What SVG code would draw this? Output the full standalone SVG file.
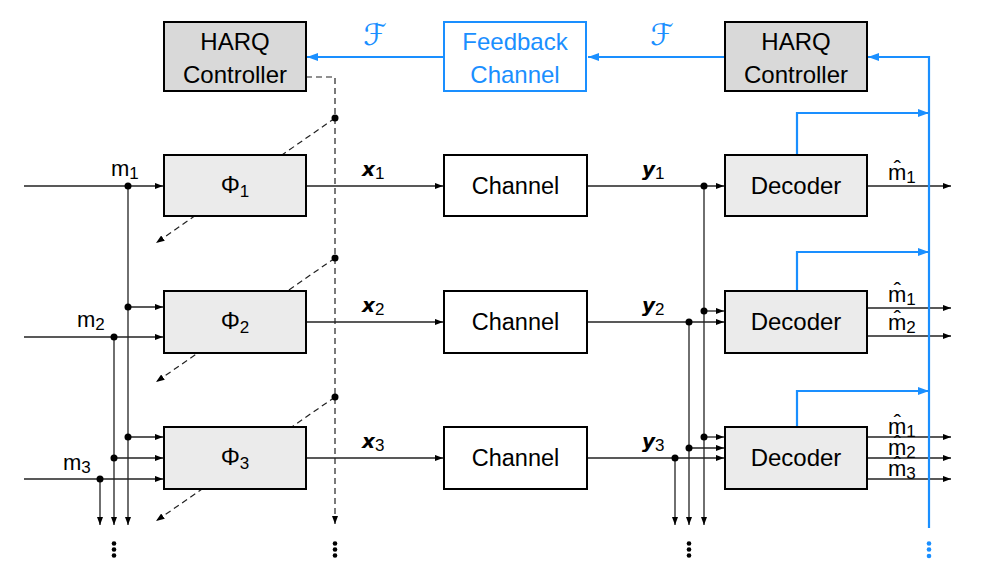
<svg xmlns="http://www.w3.org/2000/svg" width="998" height="570" viewBox="0 0 998 570">
<defs>
<marker id="ab" markerUnits="userSpaceOnUse" markerWidth="9" markerHeight="7" refX="8.5" refY="3.5" orient="auto"><path d="M0,0.3 L8.5,3.5 L0,6.7 z" fill="#000"/></marker>
<marker id="abl" markerUnits="userSpaceOnUse" markerWidth="12" markerHeight="9" refX="11" refY="4.5" orient="auto"><path d="M0,0.5 L11,4.5 L0,8.5 z" fill="#1a8fff"/></marker>
<style>
.t{font-family:"Liberation Sans",Arial,sans-serif;font-size:24px;text-anchor:middle;fill:#000}
.tb{fill:#1a8fff}
.lb{font-family:"Liberation Sans",Arial,sans-serif;font-size:22px;fill:#000}
.v{font-family:"DejaVu Sans","Liberation Sans",sans-serif;font-style:italic;font-weight:bold;font-size:20px}
.s{font-size:17px}
.F{font-family:"DejaVu Sans",sans-serif;font-style:italic;font-size:30px;fill:#1a8fff;text-anchor:middle}
.box{stroke:#000;stroke-width:2}
.harq{fill:#d9d9d9}
.phi{fill:#ebebeb}
.ch{fill:#fff}
.fb{fill:#fff;stroke:#1a8fff;stroke-width:2}
.la{fill:none;stroke:#222;stroke-width:1.3;marker-end:url(#ab)}
.da{fill:none;stroke:#222;stroke-width:1.2;stroke-dasharray:6 4}
.bla{fill:none;stroke:#1a8fff;stroke-width:2.2;marker-end:url(#abl)}
</style>
</defs>

<g id="connectors">
  <path class="da" d="M306,77 H335 V524" marker-end="url(#ab)"/>
  <path class="da" d="M335,118 L156,243" marker-end="url(#ab)"/>
  <path class="da" d="M335,258 L156,382" marker-end="url(#ab)"/>
  <path class="da" d="M335,397 L156,521" marker-end="url(#ab)"/>
  <circle cx="335" cy="118" r="3.5"/>
  <circle cx="335" cy="258" r="3.5"/>
  <circle cx="335" cy="397" r="3.5"/>

  <path class="la" d="M24,186 H163"/>
  <path class="la" d="M24,337 H163"/>
  <path class="la" d="M24,479 H163"/>
  <path class="la" d="M128,186 V525"/>
  <path class="la" d="M114,337 V525"/>
  <path class="la" d="M100,479 V525"/>
  <path class="la" d="M128,307 H163"/>
  <path class="la" d="M128,437 H163"/>
  <path class="la" d="M114,458 H163"/>
  <circle cx="128" cy="186" r="3.5"/>
  <circle cx="128" cy="307" r="3.5"/>
  <circle cx="128" cy="437" r="3.5"/>
  <circle cx="114" cy="337" r="3.5"/>
  <circle cx="114" cy="458" r="3.5"/>
  <circle cx="100" cy="479" r="3.5"/>

  <path class="la" d="M306,186 H443"/>
  <path class="la" d="M306,322 H443"/>
  <path class="la" d="M306,458 H443"/>

  <path class="la" d="M587,186 H724"/>
  <path class="la" d="M587,322 H724"/>
  <path class="la" d="M587,458 H724"/>
  <path class="la" d="M704,186 V525"/>
  <path class="la" d="M689,322 V525"/>
  <path class="la" d="M675,458 V525"/>
  <path class="la" d="M704,311 H724"/>
  <path class="la" d="M704,437 H724"/>
  <path class="la" d="M689,448 H724"/>
  <circle cx="704" cy="186" r="3.5"/>
  <circle cx="704" cy="311" r="3.5"/>
  <circle cx="704" cy="437" r="3.5"/>
  <circle cx="689" cy="322" r="3.5"/>
  <circle cx="689" cy="448" r="3.5"/>
  <circle cx="675" cy="458" r="3.5"/>

  <path class="la" d="M867,186 H951"/>
  <path class="la" d="M867,308 H951"/>
  <path class="la" d="M867,336 H951"/>
  <path class="la" d="M867,437 H951"/>
  <path class="la" d="M867,458 H951"/>
  <path class="la" d="M867,479 H951"/>

  <path class="bla" d="M797,154 V113 H929"/>
  <path class="bla" d="M797,291 V252 H929"/>
  <path class="bla" d="M797,427 V391 H929"/>
  <path class="bla" d="M929,528 V57 H868"/>
  <path class="bla" d="M724,57 H588"/>
  <path class="bla" d="M443,57 H307"/>

  <g fill="#000">
    <circle cx="114" cy="543.5" r="2.3"/><circle cx="114" cy="549.5" r="2.3"/><circle cx="114" cy="555.5" r="2.3"/>
    <circle cx="335" cy="543.5" r="2.3"/><circle cx="335" cy="549.5" r="2.3"/><circle cx="335" cy="555.5" r="2.3"/>
    <circle cx="689" cy="543.5" r="2.3"/><circle cx="689" cy="549.5" r="2.3"/><circle cx="689" cy="555.5" r="2.3"/>
  </g>
  <g fill="#1a8fff">
    <circle cx="929" cy="543.5" r="2.3"/><circle cx="929" cy="549.5" r="2.3"/><circle cx="929" cy="556" r="2.3"/>
  </g>
</g>

<g id="harq-left">
  <rect class="box harq" x="164" y="22" width="142" height="69"/>
  <text class="t" x="235" y="50">HARQ</text>
  <text class="t" x="235" y="83">Controller</text>
</g>
<g id="feedback-channel">
  <rect class="fb" x="444" y="22" width="142" height="69"/>
  <text class="t tb" x="515" y="50">Feedback</text>
  <text class="t tb" x="515" y="83">Channel</text>
</g>
<g id="harq-right">
  <rect class="box harq" x="725" y="22" width="142" height="69"/>
  <text class="t" x="796" y="50">HARQ</text>
  <text class="t" x="796" y="83">Controller</text>
</g>
<g id="labels-F">
  <text class="F" x="375" y="45">ℱ</text>
  <text class="F" x="662" y="45">ℱ</text>
</g>

<g id="phi1">
  <rect class="box phi" x="164" y="155" width="142" height="61"/>
  <text class="t" x="235" y="193">Φ<tspan class="s" dy="4">1</tspan></text>
</g>
<g id="phi2">
  <rect class="box phi" x="164" y="291" width="142" height="62"/>
  <text class="t" x="235" y="329">Φ<tspan class="s" dy="4">2</tspan></text>
</g>
<g id="phi3">
  <rect class="box phi" x="164" y="427" width="142" height="62"/>
  <text class="t" x="235" y="465">Φ<tspan class="s" dy="4">3</tspan></text>
</g>

<g id="channel1">
  <rect class="box ch" x="444" y="155" width="143" height="61"/>
  <text class="t" x="515.5" y="194" style="font-size:23.5px">Channel</text>
</g>
<g id="channel2">
  <rect class="box ch" x="444" y="291" width="143" height="62"/>
  <text class="t" x="515.5" y="330" style="font-size:23.5px">Channel</text>
</g>
<g id="channel3">
  <rect class="box ch" x="444" y="427" width="143" height="62"/>
  <text class="t" x="515.5" y="466" style="font-size:23.5px">Channel</text>
</g>

<g id="decoder1">
  <rect class="box phi" x="725" y="155" width="142" height="61"/>
  <text class="t" x="796" y="194">Decoder</text>
</g>
<g id="decoder2">
  <rect class="box phi" x="725" y="291" width="142" height="62"/>
  <text class="t" x="796" y="330">Decoder</text>
</g>
<g id="decoder3">
  <rect class="box phi" x="725" y="427" width="142" height="62"/>
  <text class="t" x="796" y="466">Decoder</text>
</g>

<g id="labels">
  <text class="lb" x="111" y="176">m<tspan class="s" dy="3">1</tspan></text>
  <text class="lb" x="77" y="327">m<tspan class="s" dy="3">2</tspan></text>
  <text class="lb" x="63" y="470">m<tspan class="s" dy="3">3</tspan></text>

  <text class="lb" x="362" y="176"><tspan class="v">x</tspan><tspan class="s" dy="3">1</tspan></text>
  <text class="lb" x="362" y="312"><tspan class="v">x</tspan><tspan class="s" dy="3">2</tspan></text>
  <text class="lb" x="362" y="448"><tspan class="v">x</tspan><tspan class="s" dy="3">3</tspan></text>

  <text class="lb" x="642" y="176"><tspan class="v">y</tspan><tspan class="s" dy="3">1</tspan></text>
  <text class="lb" x="642" y="312"><tspan class="v">y</tspan><tspan class="s" dy="3">2</tspan></text>
  <text class="lb" x="642" y="448"><tspan class="v">y</tspan><tspan class="s" dy="3">3</tspan></text>

  <text class="lb" x="888" y="180">m̂<tspan class="s" dy="3">1</tspan></text>
  <text class="lb" x="888" y="302">m̂<tspan class="s" dy="3">1</tspan></text>
  <text class="lb" x="888" y="330">m̂<tspan class="s" dy="3">2</tspan></text>
  <text class="lb" x="888" y="434">m̂<tspan class="s" dy="3">1</tspan></text>
  <text class="lb" x="888" y="455">m̂<tspan class="s" dy="3">2</tspan></text>
  <text class="lb" x="888" y="476">m̂<tspan class="s" dy="3">3</tspan></text>
</g>
</svg>
